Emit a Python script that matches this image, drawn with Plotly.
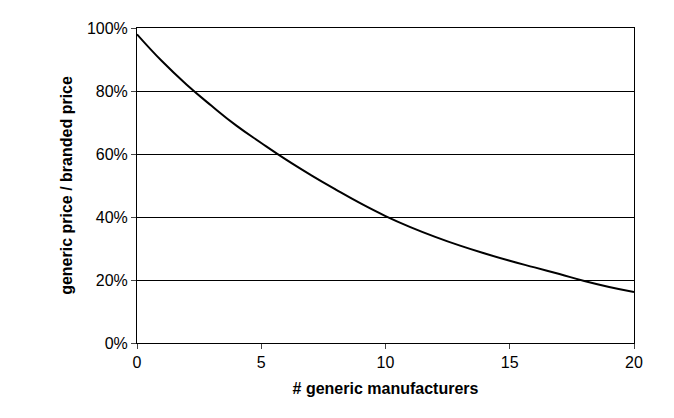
import plotly.graph_objects as go

manufacturers = list(range(21))
price_ratio = [0.98, 0.895, 0.82, 0.753, 0.69, 0.635, 0.582, 0.533, 0.487, 0.443, 0.403,
               0.368, 0.337, 0.309, 0.284, 0.261, 0.24, 0.219, 0.197, 0.178, 0.162]

fig = go.Figure(go.Scatter(x=manufacturers, y=price_ratio, mode="lines",
                           line=dict(color="black", width=2, shape="spline", smoothing=1.3)))
font = dict(family="Liberation Sans, Arial", size=16, color="black")
fig.update_layout(
    width=674, height=418, margin=dict(l=129, r=48, t=15, b=83),
    paper_bgcolor="white", plot_bgcolor="white", showlegend=False, font=font,
    xaxis=dict(range=[0, 20], tickvals=[0, 5, 10, 15, 20], ticks="outside", ticklen=5,
               showline=True, linecolor="black", mirror=True, showgrid=False, zeroline=False,
               title=dict(text="<b># generic manufacturers</b>", font=font, standoff=12)),
    yaxis=dict(range=[0, 1], tickvals=[0, 0.2, 0.4, 0.6, 0.8, 1.0], tickformat=".0%",
               ticks="outside", ticklen=5, showline=True, linecolor="black", mirror=True,
               showgrid=True, gridcolor="black", gridwidth=1, zeroline=False,
               title=dict(text="<b>generic price / branded price</b>", font=font, standoff=10)),
)
fig.write_html("out.html")
